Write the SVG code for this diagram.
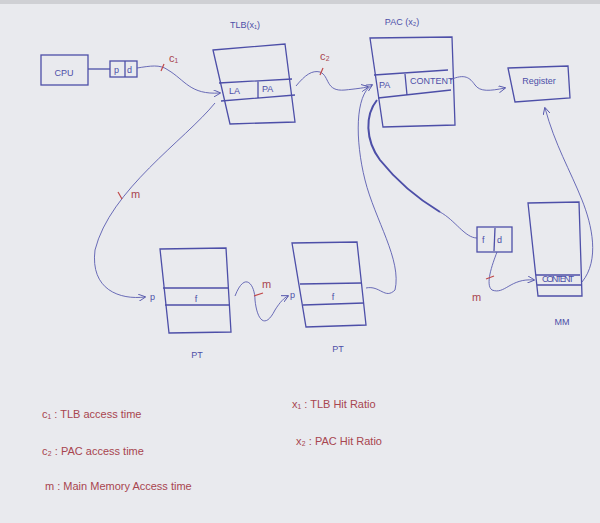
<svg xmlns="http://www.w3.org/2000/svg" width="600" height="523" viewBox="0 0 600 523">
<defs>
<style>
.b{fill:none;stroke:#4d4fa8;stroke-width:1.3}
.c{fill:none;stroke:#5a5cb0;stroke-width:0.9}
.t{font-family:"Liberation Sans",sans-serif;fill:#4d4fa8;font-size:9px}
.r{font-family:"Liberation Sans",sans-serif;fill:#a8454f;font-size:11px}
.rt{stroke:#c04848;stroke-width:1.2}
</style>
<marker id="a" viewBox="0 0 10 10" refX="9" refY="5" markerWidth="8" markerHeight="8" orient="auto"><path d="M0,0L10,5L0,10" fill="none" stroke="#4d4fa8" stroke-width="1.2"/></marker>
</defs>
<rect width="600" height="523" fill="#e9eaee"/>
<rect width="600" height="4" fill="#cfd0d4"/>
<g id="cpu"><rect class="b" x="41" y="55" width="47" height="30"/><text class="t" x="64" y="76" text-anchor="middle" font-size="12">CPU</text></g>
<g id="pd"><rect class="b" x="110" y="61" width="27" height="16"/><line class="b" x1="125" y1="61" x2="125" y2="77"/><text class="t" x="114" y="73">p</text><text class="t" x="127" y="73">d</text></g>
<g id="tlb"><path class="b" d="M213,50L285,44L295,122L230,124Z"/><path class="b" d="M219,83L292,79M221,101L295,95M258,81L258,98"/><text class="t" x="229" y="94">LA</text><text class="t" x="262" y="92">PA</text><text class="t" x="245" y="28" text-anchor="middle" font-size="11">TLB(x₁)</text></g>
<g id="pac"><path class="b" d="M370,38L452,37L455,125L383,127Z"/><path class="b" d="M374,75L448,70M378,98L451,90M405,74L407,95"/><text class="t" x="379" y="88">PA</text><text class="t" x="410" y="84" font-size="7">CONTENT</text><text class="t" x="402" y="25" text-anchor="middle" font-size="11">PAC (x₂)</text></g>
<g id="register"><path class="b" d="M508,68L568,66L570,98L515,102Z"/><text class="t" x="539" y="84" text-anchor="middle" font-size="8">Register</text></g>
<g id="pt1"><path class="b" d="M160,249L226,248L231,332L169,333Z"/><path class="b" d="M163,288L228,288M165,305L230,305"/><text class="t" x="196" y="302" text-anchor="middle">f</text><text class="t" x="150" y="300" font-size="7">p</text><text class="t" x="197" y="358" text-anchor="middle">PT</text></g>
<g id="pt2"><path class="b" d="M292,243L357,242L366,325L306,327Z"/><path class="b" d="M300,284L362,283M303,305L364,303"/><text class="t" x="333" y="300" text-anchor="middle">f</text><text class="t" x="290" y="298" font-size="7">p</text><text class="t" x="338" y="352" text-anchor="middle">PT</text></g>
<g id="fd"><rect class="b" x="477" y="227" width="35" height="25"/><line class="b" x1="495" y1="228" x2="494" y2="251"/><text class="t" x="482" y="243">f</text><text class="t" x="497" y="243">d</text></g>
<g id="mm"><path class="b" d="M528,203L579,202L582,296L538,296Z"/><path class="b" d="M536,275L580,275M537,285L581,285"/><text class="t" x="558" y="282" text-anchor="middle" font-size="4" textLength="32">CONTENT</text><text class="t" x="562" y="325" text-anchor="middle" font-size="10">MM</text></g>
<g id="connectors">
<line class="b" x1="88" y1="69" x2="110" y2="69"/>
<path class="c" d="M137,68C150,66 160,64 168,70C185,80 190,95 220,93" marker-end="url(#a)"/>
<path class="c" d="M296,86C305,75 312,70 320,72C330,76 325,92 345,90C355,89 362,88 368,87" marker-end="url(#a)"/>
<path class="c" d="M450,80C465,73 470,78 475,85C480,92 490,91 505,88" marker-end="url(#a)"/>
<path class="c" d="M215,103C185,140 110,190 95,250C90,290 120,300 145,297" marker-end="url(#a)"/>
<path class="c" d="M235,296C245,270 255,285 255,300C257,320 265,330 275,310C280,302 284,298 288,296" marker-end="url(#a)"/>
<path class="c" d="M366,288C380,285 385,300 395,290C402,260 375,220 365,180C355,140 355,95 372,85" marker-end="url(#a)"/>
<path fill="none" stroke="#4d4fa8" stroke-width="2" d="M377,100C365,115 365,140 380,160C400,185 420,200 440,212"/>
<path class="c" d="M440,212C455,220 465,238 477,238"/>
<path class="c" d="M497,252C492,265 485,285 492,290C505,295 510,278 534,280" marker-end="url(#a)"/>
<path class="c" d="M582,282C600,260 592,225 582,200C570,170 555,145 545,108" marker-end="url(#a)"/>
</g>
<g id="marks">
<line class="rt" x1="161" y1="71" x2="164" y2="64"/><text class="r" x="169" y="62">c₁</text>
<line class="rt" x1="320" y1="75" x2="323" y2="68"/><text class="r" x="320" y="60" font-size="9">c₂</text>
<line class="rt" x1="118" y1="192" x2="122" y2="199"/><text class="r" x="131" y="198" font-size="9">m</text>
<line class="rt" x1="254" y1="296" x2="263" y2="293"/><text class="r" x="262" y="288" font-size="9">m</text>
<line class="rt" x1="486" y1="279" x2="494" y2="276"/><text class="r" x="472" y="301" font-size="9">m</text>
</g>
<g id="legend">
<text class="r" x="42" y="418">c₁ : TLB access time</text>
<text class="r" x="42" y="455">c₂ : PAC access time</text>
<text class="r" x="45" y="490">m : Main Memory Access time</text>
<text class="r" x="292" y="408">x₁ : TLB Hit Ratio</text>
<text class="r" x="296" y="445">x₂ : PAC Hit Ratio</text>
</g>
</svg>
